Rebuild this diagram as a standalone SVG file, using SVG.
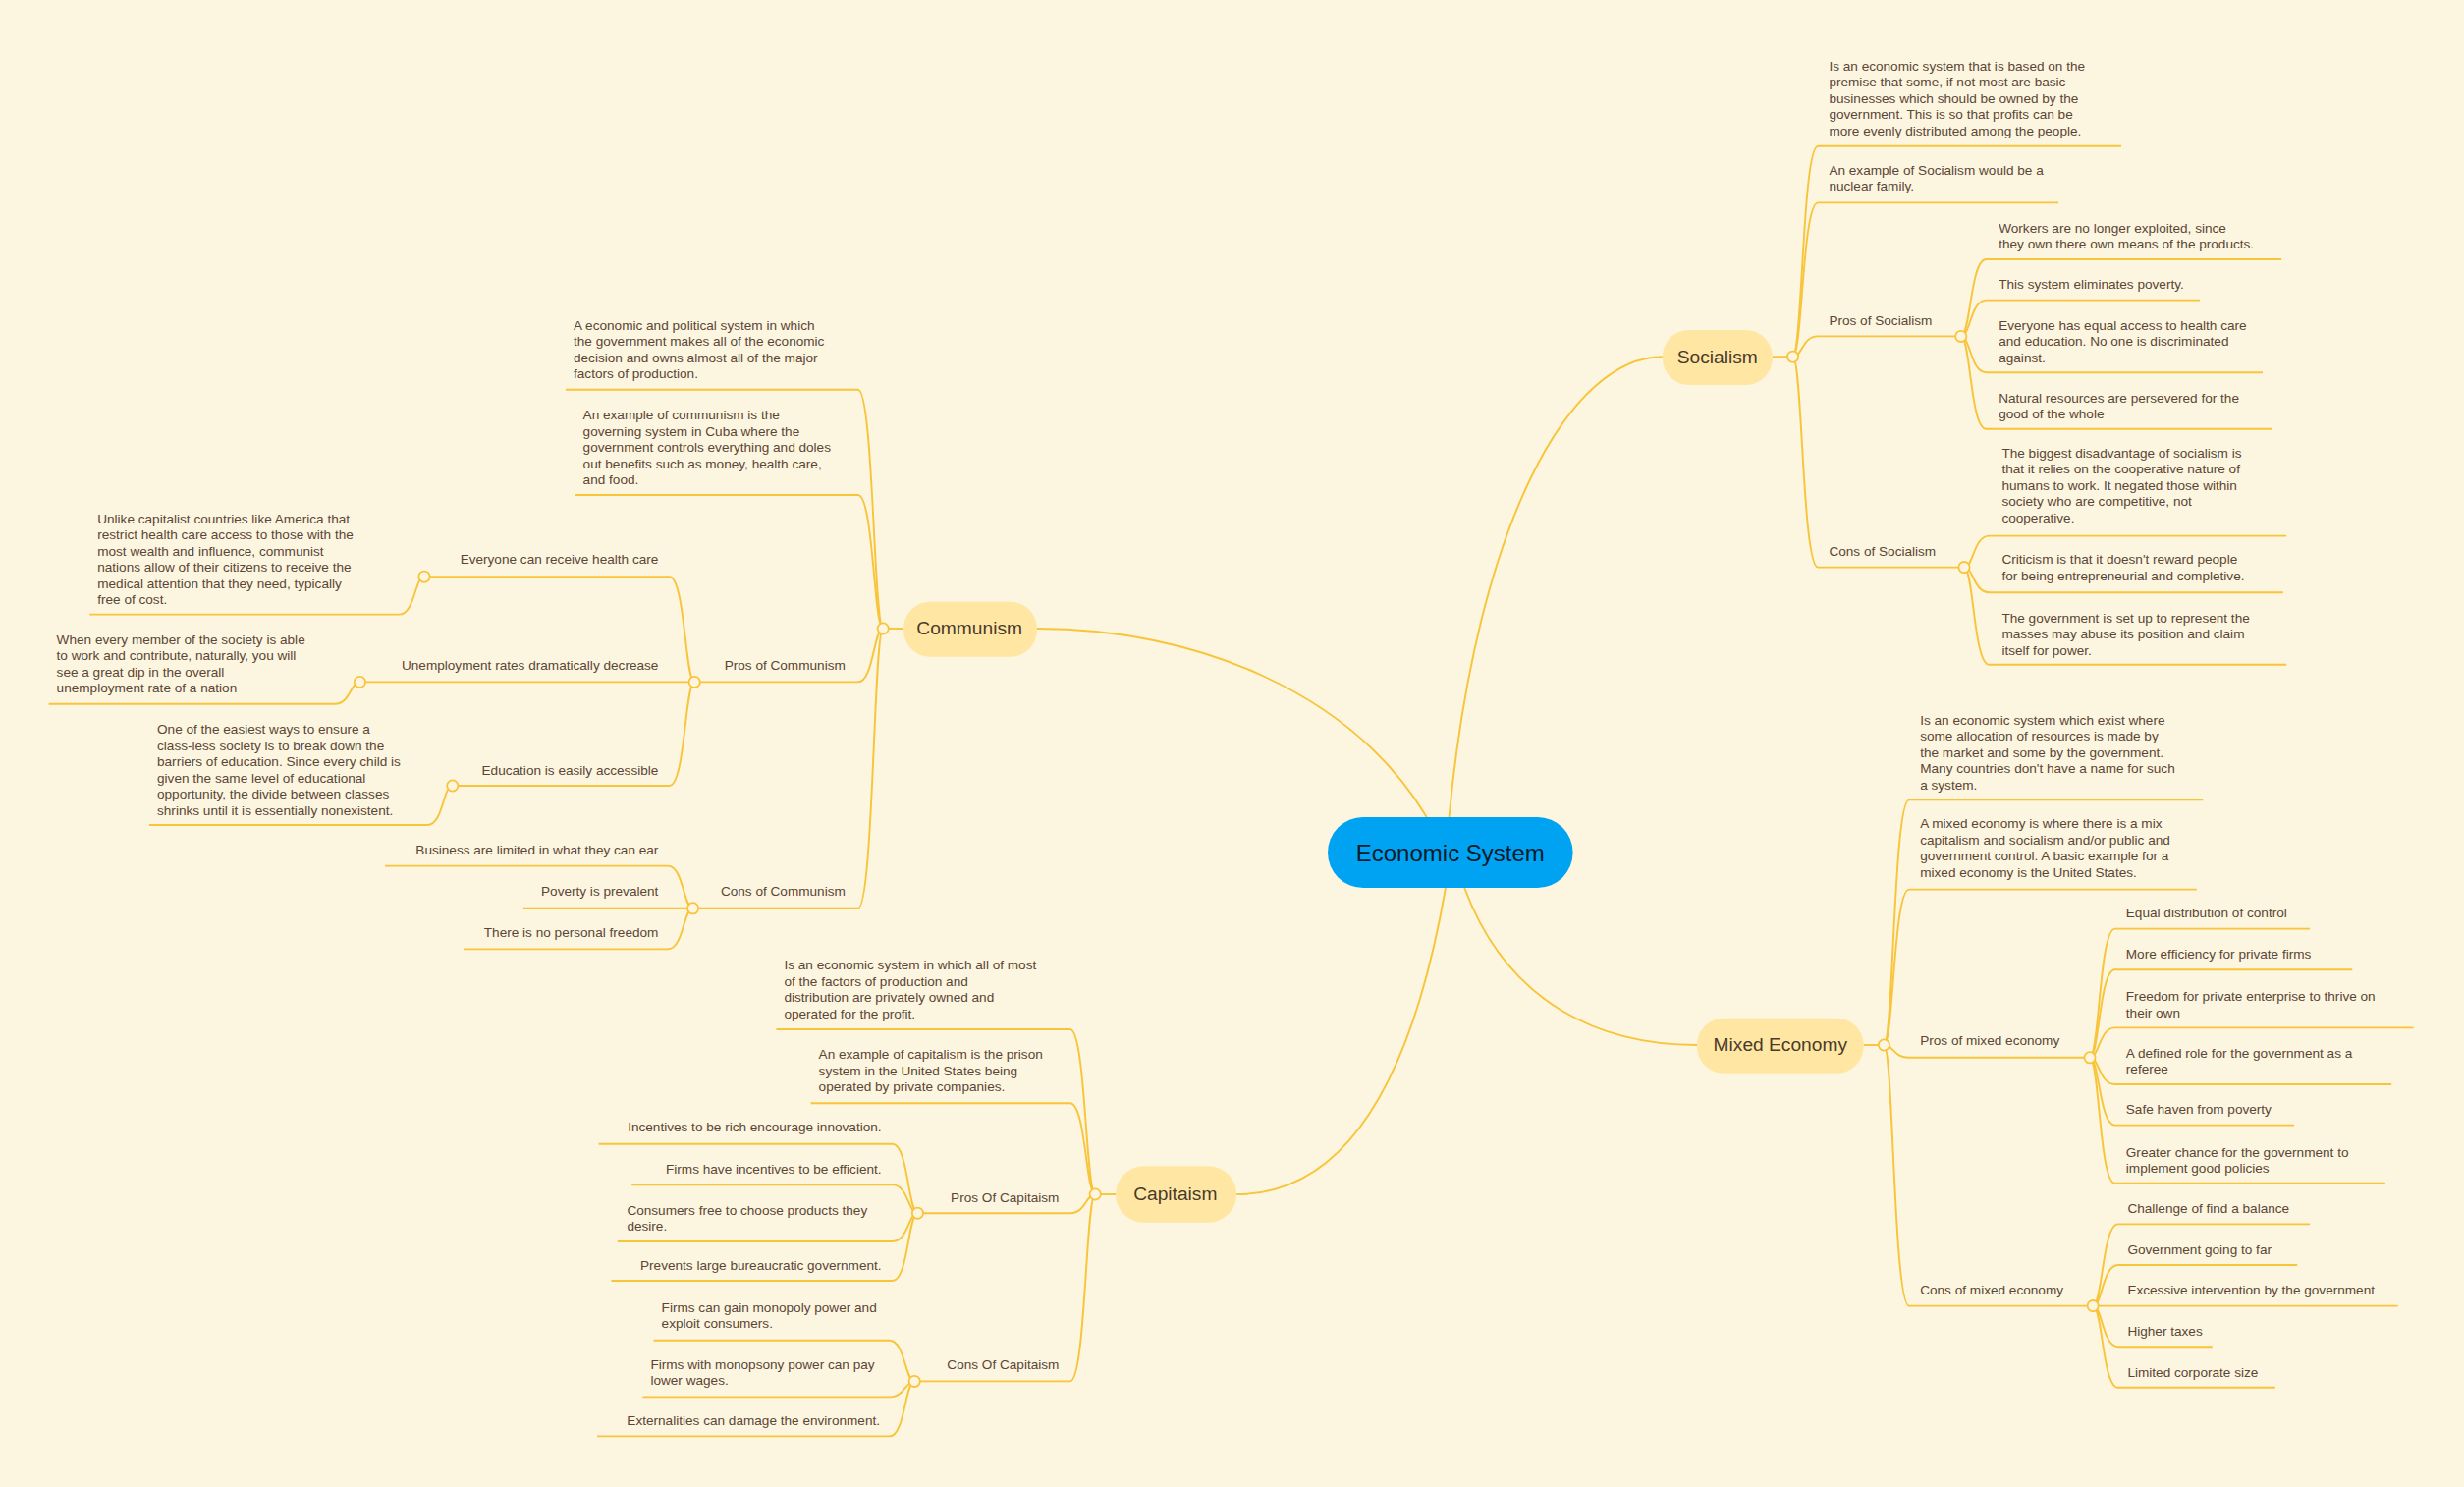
<svg xmlns="http://www.w3.org/2000/svg" width="2509" height="1514" viewBox="0 0 2509 1514">
<style>
.t{font-family:"Liberation Sans",sans-serif;font-size:8.5px;fill:#5b4636}
.e{text-anchor:end}
.n{font-family:"Liberation Sans",sans-serif;font-size:12px;fill:#4a3a2a;text-anchor:middle}
.c path{fill:none;stroke:#f8c43a;stroke-width:1.2}
.j{fill:#fdf5df;stroke:#f8c43a;stroke-width:1.1}
.nb{fill:#ffe7a3}
</style>
<rect width="2509" height="1514" fill="#fcf5df"/>
<g transform="scale(1.6)">
<g class="c" id="connectors">
<path d="M922 522 C940 330 1000 227 1058 227"/>
<path d="M932 565 C960 640 1020 665 1080 665"/>
<path d="M908 520 C860 440 760 400 660 400"/>
<path d="M920 565 C900 680 860 760 787 760"/>
<path d="M1128 227 H1141"/><path d="M1186 665 H1199"/><path d="M575 400 H562"/><path d="M710 760 H697"/>
<path d="M1141 227 C1147 227 1147 93 1157 93 H1350"/>
<path d="M1141 227 C1147 227 1147 129 1157 129 H1310"/>
<path d="M1141 227 C1147 227 1147 214 1157 214 H1248"/>
<path d="M1141 227 C1147 227 1147 361 1157 361 H1250"/>
<path d="M1248 214 C1254 214 1254 165 1264 165 H1452"/>
<path d="M1248 214 C1254 214 1254 191 1264 191 H1400"/>
<path d="M1248 214 C1254 214 1254 237 1264 237 H1440"/>
<path d="M1248 214 C1254 214 1254 273 1264 273 H1446"/>
<path d="M1250 361 C1256 361 1256 341 1266 341 H1455"/>
<path d="M1250 361 C1256 361 1256 377 1266 377 H1453"/>
<path d="M1250 361 C1256 361 1256 423 1266 423 H1455"/>
<path d="M1199 665 C1205 665 1205 509 1215 509 H1402"/>
<path d="M1199 665 C1205 665 1205 566 1215 566 H1398"/>
<path d="M1199 665 C1205 665 1205 673 1215 673 H1330"/>
<path d="M1199 665 C1205 665 1205 831 1215 831 H1332"/>
<path d="M1330 673 C1336 673 1336 591 1346 591 H1470"/>
<path d="M1330 673 C1336 673 1336 617 1346 617 H1497"/>
<path d="M1330 673 C1336 673 1336 654 1346 654 H1536"/>
<path d="M1330 673 C1336 673 1336 690 1346 690 H1522"/>
<path d="M1330 673 C1336 673 1336 716 1346 716 H1460"/>
<path d="M1330 673 C1336 673 1336 753 1346 753 H1518"/>
<path d="M1332 831 C1338 831 1338 779 1348 779 H1470"/>
<path d="M1332 831 C1338 831 1338 805 1348 805 H1462"/>
<path d="M1332 831 H1526"/>
<path d="M1332 831 C1338 831 1338 857 1348 857 H1408"/>
<path d="M1332 831 C1338 831 1338 883 1348 883 H1448"/>
<path d="M562 400 C556 400 556 248 546 248 H360"/>
<path d="M562 400 C556 400 556 315 546 315 H366"/>
<path d="M562 400 C556 400 556 434 546 434 H442"/>
<path d="M562 400 C556 400 556 578 546 578 H441"/>
<path d="M442 434 C436 434 436 367 426 367 H270"/>
<path d="M442 434 H229"/>
<path d="M442 434 C436 434 436 500 426 500 H288"/>
<path d="M270 367 C264 367 264 391 254 391 H57"/>
<path d="M229 434 C223 434 223 448 213 448 H31"/>
<path d="M288 500 C282 500 282 525 272 525 H95"/>
<path d="M441 578 C435 578 435 551 425 551 H245"/>
<path d="M441 578 H333"/>
<path d="M441 578 C435 578 435 604 425 604 H295"/>
<path d="M697 760 C691 760 691 655 681 655 H494"/>
<path d="M697 760 C691 760 691 702 681 702 H516"/>
<path d="M697 760 C691 760 691 772 681 772 H584"/>
<path d="M697 760 C691 760 691 879 681 879 H582"/>
<path d="M584 772 C578 772 578 728 568 728 H381"/>
<path d="M584 772 C578 772 578 754 568 754 H402"/>
<path d="M584 772 C578 772 578 790 568 790 H393"/>
<path d="M584 772 C578 772 578 815 568 815 H389"/>
<path d="M582 879 C576 879 576 853 566 853 H416"/>
<path d="M582 879 C576 879 576 889 566 889 H409"/>
<path d="M582 879 C576 879 576 914 566 914 H380"/>
</g>
<g id="junctions">
<circle class="j" cx="1141" cy="227" r="3.5"/><circle class="j" cx="1248" cy="214" r="3.5"/><circle class="j" cx="1250" cy="361" r="3.5"/>
<circle class="j" cx="1199" cy="665" r="3.5"/><circle class="j" cx="1330" cy="673" r="3.5"/><circle class="j" cx="1332" cy="831" r="3.5"/>
<circle class="j" cx="562" cy="400" r="3.5"/><circle class="j" cx="442" cy="434" r="3.5"/><circle class="j" cx="441" cy="578" r="3.5"/>
<circle class="j" cx="270" cy="367" r="3.5"/><circle class="j" cx="229" cy="434" r="3.5"/><circle class="j" cx="288" cy="500" r="3.5"/>
<circle class="j" cx="697" cy="760" r="3.5"/><circle class="j" cx="584" cy="772" r="3.5"/><circle class="j" cx="582" cy="879" r="3.5"/>
</g>
<g id="center"><rect x="845" y="520" width="156" height="45" rx="22.5" fill="#00a2f2"/><text x="923" y="548" class="n" style="font-size:15px;fill:#0d1b2a">Economic System</text></g>
<g id="socialism"><rect class="nb" x="1058" y="210" width="70" height="35" rx="17"/><text x="1093" y="231" class="n">Socialism</text></g>
<g id="mixed"><rect class="nb" x="1080" y="648" width="106" height="35" rx="17"/><text x="1133" y="669" class="n">Mixed Economy</text></g>
<g id="communism"><rect class="nb" x="575" y="383" width="85" height="35" rx="17"/><text x="617" y="404" class="n">Communism</text></g>
<g id="capitaism"><rect class="nb" x="710" y="742" width="77" height="36" rx="18"/><text x="748" y="764" class="n">Capitaism</text></g>
<g id="socialism-items">
<text class="t" x="1164" y="45"><tspan x="1164">Is an economic system that is based on the</tspan><tspan x="1164" dy="10.3">premise that some, if not most are basic</tspan><tspan x="1164" dy="10.3">businesses which should be owned by the</tspan><tspan x="1164" dy="10.3">government. This is so that profits can be</tspan><tspan x="1164" dy="10.3">more evenly distributed among the people.</tspan></text>
<text class="t" x="1164" y="111"><tspan x="1164">An example of Socialism would be a</tspan><tspan x="1164" dy="10.3">nuclear family.</tspan></text>
<text class="t" x="1164" y="207">Pros of Socialism</text>
<text class="t" x="1164" y="354">Cons of Socialism</text>
<text class="t" x="1272" y="148"><tspan x="1272">Workers are no longer exploited, since</tspan><tspan x="1272" dy="10.3">they own there own means of the products.</tspan></text>
<text class="t" x="1272" y="184">This system eliminates poverty.</text>
<text class="t" x="1272" y="210"><tspan x="1272">Everyone has equal access to health care</tspan><tspan x="1272" dy="10.3">and education. No one is discriminated</tspan><tspan x="1272" dy="10.3">against.</tspan></text>
<text class="t" x="1272" y="256"><tspan x="1272">Natural resources are persevered for the</tspan><tspan x="1272" dy="10.3">good of the whole</tspan></text>
<text class="t" x="1274" y="291"><tspan x="1274">The biggest disadvantage of socialism is</tspan><tspan x="1274" dy="10.3">that it relies on the cooperative nature of</tspan><tspan x="1274" dy="10.3">humans to work. It negated those within</tspan><tspan x="1274" dy="10.3">society who are competitive, not</tspan><tspan x="1274" dy="10.3">cooperative.</tspan></text>
<text class="t" x="1274" y="359"><tspan x="1274">Criticism is that it doesn't reward people</tspan><tspan x="1274" dy="10.3">for being entrepreneurial and completive.</tspan></text>
<text class="t" x="1274" y="396"><tspan x="1274">The government is set up to represent the</tspan><tspan x="1274" dy="10.3">masses may abuse its position and claim</tspan><tspan x="1274" dy="10.3">itself for power.</tspan></text>
</g>
<g id="mixed-items">
<text class="t" x="1222" y="461"><tspan x="1222">Is an economic system which exist where</tspan><tspan x="1222" dy="10.3">some allocation of resources is made by</tspan><tspan x="1222" dy="10.3">the market and some by the government.</tspan><tspan x="1222" dy="10.3">Many countries don't have a name for such</tspan><tspan x="1222" dy="10.3">a system.</tspan></text>
<text class="t" x="1222" y="527"><tspan x="1222">A mixed economy is where there is a mix</tspan><tspan x="1222" dy="10.3">capitalism and socialism and/or public and</tspan><tspan x="1222" dy="10.3">government control. A basic example for a</tspan><tspan x="1222" dy="10.3">mixed economy is the United States.</tspan></text>
<text class="t" x="1222" y="665">Pros of mixed economy</text>
<text class="t" x="1222" y="824">Cons of mixed economy</text>
<text class="t" x="1353" y="584">Equal distribution of control</text>
<text class="t" x="1353" y="610">More efficiency for private firms</text>
<text class="t" x="1353" y="637"><tspan x="1353">Freedom for private enterprise to thrive on</tspan><tspan x="1353" dy="10.3">their own</tspan></text>
<text class="t" x="1353" y="673"><tspan x="1353">A defined role for the government as a</tspan><tspan x="1353" dy="10.3">referee</tspan></text>
<text class="t" x="1353" y="709">Safe haven from poverty</text>
<text class="t" x="1353" y="736"><tspan x="1353">Greater chance for the government to</tspan><tspan x="1353" dy="10.3">implement good policies</tspan></text>
<text class="t" x="1354" y="772">Challenge of find a balance</text>
<text class="t" x="1354" y="798">Government going to far</text>
<text class="t" x="1354" y="824">Excessive intervention by the government</text>
<text class="t" x="1354" y="850">Higher taxes</text>
<text class="t" x="1354" y="876">Limited corporate size</text>
</g>
<g id="communism-items">
<text class="t" x="365" y="210"><tspan x="365">A economic and political system in which</tspan><tspan x="365" dy="10.3">the government makes all of the economic</tspan><tspan x="365" dy="10.3">decision and owns almost all of the major</tspan><tspan x="365" dy="10.3">factors of production.</tspan></text>
<text class="t" x="371" y="267"><tspan x="371">An example of communism is the</tspan><tspan x="371" dy="10.3">governing system in Cuba where the</tspan><tspan x="371" dy="10.3">government controls everything and doles</tspan><tspan x="371" dy="10.3">out benefits such as money, health care,</tspan><tspan x="371" dy="10.3">and food.</tspan></text>
<text class="t e" x="538" y="426">Pros of Communism</text>
<text class="t e" x="538" y="570">Cons of Communism</text>
<text class="t e" x="419" y="359">Everyone can receive health care</text>
<text class="t e" x="419" y="426">Unemployment rates dramatically decrease</text>
<text class="t e" x="419" y="493">Education is easily accessible</text>
<text class="t" x="62" y="333"><tspan x="62">Unlike capitalist countries like America that</tspan><tspan x="62" dy="10.3">restrict health care access to those with the</tspan><tspan x="62" dy="10.3">most wealth and influence, communist</tspan><tspan x="62" dy="10.3">nations allow of their citizens to receive the</tspan><tspan x="62" dy="10.3">medical attention that they need, typically</tspan><tspan x="62" dy="10.3">free of cost.</tspan></text>
<text class="t" x="36" y="410"><tspan x="36">When every member of the society is able</tspan><tspan x="36" dy="10.3">to work and contribute, naturally, you will</tspan><tspan x="36" dy="10.3">see a great dip in the overall</tspan><tspan x="36" dy="10.3">unemployment rate of a nation</tspan></text>
<text class="t" x="100" y="467"><tspan x="100">One of the easiest ways to ensure a</tspan><tspan x="100" dy="10.3">class-less society is to break down the</tspan><tspan x="100" dy="10.3">barriers of education. Since every child is</tspan><tspan x="100" dy="10.3">given the same level of educational</tspan><tspan x="100" dy="10.3">opportunity, the divide between classes</tspan><tspan x="100" dy="10.3">shrinks until it is essentially nonexistent.</tspan></text>
<text class="t e" x="419" y="544">Business are limited in what they can ear</text>
<text class="t e" x="419" y="570">Poverty is prevalent</text>
<text class="t e" x="419" y="596">There is no personal freedom</text>
</g>
<g id="capitaism-items">
<text class="t" x="499" y="617"><tspan x="499">Is an economic system in which all of most</tspan><tspan x="499" dy="10.3">of the factors of production and</tspan><tspan x="499" dy="10.3">distribution are privately owned and</tspan><tspan x="499" dy="10.3">operated for the profit.</tspan></text>
<text class="t" x="521" y="674"><tspan x="521">An example of capitalism is the prison</tspan><tspan x="521" dy="10.3">system in the United States being</tspan><tspan x="521" dy="10.3">operated by private companies.</tspan></text>
<text class="t e" x="674" y="765">Pros Of Capitaism</text>
<text class="t e" x="674" y="871">Cons Of Capitaism</text>
<text class="t e" x="561" y="720">Incentives to be rich encourage innovation.</text>
<text class="t e" x="561" y="747">Firms have incentives to be efficient.</text>
<text class="t" x="399" y="773"><tspan x="399">Consumers free to choose products they</tspan><tspan x="399" dy="10.3">desire.</tspan></text>
<text class="t e" x="561" y="808">Prevents large bureaucratic government.</text>
<text class="t" x="421" y="835"><tspan x="421">Firms can gain monopoly power and</tspan><tspan x="421" dy="10.3">exploit consumers.</tspan></text>
<text class="t" x="414" y="871"><tspan x="414">Firms with monopsony power can pay</tspan><tspan x="414" dy="10.3">lower wages.</tspan></text>
<text class="t e" x="560" y="907">Externalities can damage the environment.</text>
</g>
</g>
</svg>
